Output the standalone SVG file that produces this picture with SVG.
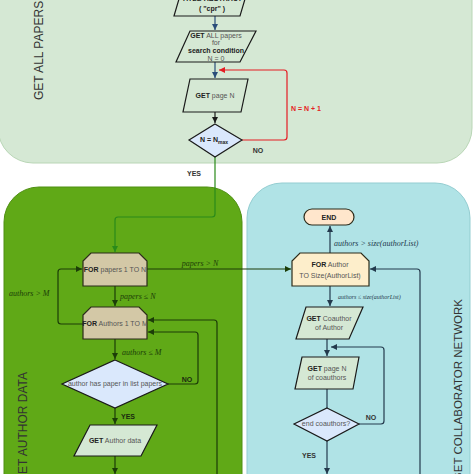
<svg xmlns="http://www.w3.org/2000/svg" width="474" height="474" viewBox="0 0 474 474">
<style>
.t{font-family:"Liberation Sans",Arial,sans-serif;font-size:7px;fill:#555;text-anchor:middle}
.b{font-weight:bold;fill:#222}
.lbl{font-family:"Liberation Sans",Arial,sans-serif;font-size:7px;font-weight:bold;text-anchor:middle}
.m{font-family:"Liberation Serif","Times New Roman",serif;font-style:italic;font-size:8px}
.title{font-family:"Liberation Sans",Arial,sans-serif;font-size:12px;fill:#333}
.par{fill:#d5e8d4;stroke:#1a1a1a;stroke-width:1.2}
.dia{fill:#dae8fc;stroke:#1a1a1a;stroke-width:1.2}
.loop1{fill:#d3c8a6;stroke:#2b2b1a;stroke-width:1.2}
.loop2{fill:#fdeecb;stroke:#2b2b1a;stroke-width:1.2}
.c{fill:none;stroke-width:1.2}
</style>
<defs>
<marker id="aB" markerWidth="6" markerHeight="6" refX="6" refY="3" orient="auto" markerUnits="userSpaceOnUse"><path d="M0,0 L6,3 L0,6 Z" fill="#2a4d7a"/></marker>
<marker id="aK" markerWidth="6" markerHeight="6" refX="6" refY="3" orient="auto" markerUnits="userSpaceOnUse"><path d="M0,0 L6,3 L0,6 Z" fill="#1a1a1a"/></marker>
<marker id="aR" markerWidth="6" markerHeight="6" refX="6" refY="3" orient="auto" markerUnits="userSpaceOnUse"><path d="M0,0 L6,3 L0,6 Z" fill="#e51c23"/></marker>
<marker id="aG" markerWidth="6" markerHeight="6" refX="6" refY="3" orient="auto" markerUnits="userSpaceOnUse"><path d="M0,0 L6,3 L0,6 Z" fill="#2a8a1a"/></marker>
<marker id="aD" markerWidth="6" markerHeight="6" refX="6" refY="3" orient="auto" markerUnits="userSpaceOnUse"><path d="M0,0 L6,3 L0,6 Z" fill="#1c3d08"/></marker>
<marker id="aN" markerWidth="6" markerHeight="6" refX="6" refY="3" orient="auto" markerUnits="userSpaceOnUse"><path d="M0,0 L6,3 L0,6 Z" fill="#233a4d"/></marker>
</defs>

<g id="panels">
<rect id="panel-papers" x="-2" y="-40" width="474" height="203" rx="35" fill="#d5e8d4" stroke="#b9d6b6" stroke-width="1"/>
<rect id="panel-author" x="4" y="187" width="238" height="330" rx="35" fill="#60a917" stroke="#4f8f12" stroke-width="1"/>
<rect id="panel-collab" x="247" y="183" width="223" height="330" rx="35" fill="#b0e3e6" stroke="#93cdd1" stroke-width="1"/>
<text class="title" transform="translate(43,100) rotate(-90)">GET ALL PAPERS</text>
<text class="title" transform="translate(27,372) rotate(-90)" text-anchor="end">GET AUTHOR DATA</text>
<text class="title" style="font-size:11.5px" transform="translate(462,299) rotate(-90)" text-anchor="end">GET COLLABORATOR NETWORK</text>
</g>

<g id="connectors">
<path class="c" stroke="#2a4d7a" d="M215,16 V30" marker-end="url(#aB)"/>
<path class="c" stroke="#2a4d7a" d="M215,62 V78" marker-end="url(#aB)"/>
<path class="c" stroke="#1a1a1a" d="M215,112 V123" marker-end="url(#aK)"/>
<path class="c" stroke="#e51c23" stroke-width="1.5" d="M242,140 H284 Q287,140 287,137 V73 Q287,70 284,70 H219" marker-end="url(#aR)"/>
<path class="c" stroke="#2a8a1a" stroke-width="1.5" d="M215,157 V214 Q215,217 212,217 H118 Q115,217 115,220 V252" marker-end="url(#aG)"/>

<path class="c" stroke="#1c3d08" d="M147,269 H291" marker-end="url(#aD)"/>
<path class="c" stroke="#1c3d08" d="M115,286 V306" marker-end="url(#aD)"/>
<path class="c" stroke="#1c3d08" d="M83,324 H61 Q58,324 58,321 V272 Q58,269 61,269 H82" marker-end="url(#aD)"/>
<path class="c" stroke="#1c3d08" d="M115,339 V359" marker-end="url(#aD)"/>
<path class="c" stroke="#1c3d08" d="M168,384 H195 Q198,384 198,381 V335 Q198,332 195,332 H148" marker-end="url(#aD)"/>
<path class="c" stroke="#1c3d08" d="M217,480 V323 Q217,320 214,320 H148" marker-end="url(#aD)"/>
<path class="c" stroke="#1c3d08" d="M115,408 V424" marker-end="url(#aD)"/>
<path class="c" stroke="#1c3d08" d="M115,456 V474" marker-end="url(#aD)"/>

<path class="c" stroke="#233a4d" d="M330,253 V226" marker-end="url(#aN)"/>
<path class="c" stroke="#233a4d" d="M330,286 V306" marker-end="url(#aN)"/>
<path class="c" stroke="#233a4d" d="M420,480 V272 Q420,269 417,269 H370" marker-end="url(#aN)"/>
<path class="c" stroke="#233a4d" d="M327,339 V356" marker-end="url(#aN)"/>
<path class="c" stroke="#233a4d" d="M359,424 H381 Q384,424 384,421 V350 Q384,347 381,347 H331" marker-end="url(#aN)"/>
<path class="c" stroke="#233a4d" d="M327,389 V408"/>
<path class="c" stroke="#233a4d" d="M327,441 V474" marker-end="url(#aN)"/>

<text class="lbl" x="306" y="111" fill="#e51c23">N = N + 1</text>
<text class="lbl" x="258" y="153" fill="#333">NO</text>
<text class="lbl" x="194" y="176" fill="#333">YES</text>
<text class="m" x="200" y="266" text-anchor="middle" fill="#1c3d08">papers &gt; N</text>
<text class="m" x="120" y="299" fill="#1c3d08">papers ≤ N</text>
<text class="m" x="9" y="296" fill="#1c3d08">authors &gt; M</text>
<text class="m" x="122" y="355" fill="#1c3d08">authors ≤ M</text>
<text class="lbl" x="187" y="382" fill="#1a2a10">NO</text>
<text class="lbl" x="128" y="419" fill="#1a2a10">YES</text>
<text class="m" x="334" y="246" fill="#233a4d">authors &gt; size(authorList)</text>
<text class="m" x="338" y="299" style="font-size:6px" fill="#233a4d">authors ≤ size(authorList)</text>
<text class="lbl" x="371" y="420" fill="#333">NO</text>
<text class="lbl" x="309" y="458" fill="#333">YES</text>
</g>

<g id="n-title">
<polygon class="par" points="184,-18 250,-18 240,16 174,16"/>
<text class="t b" x="212" y="1">TITLE-ABSTRACT</text>
<text class="t b" x="212" y="11">( "cpr" )</text>
</g>
<g id="n-getall">
<polygon class="par" points="190,31 256,31 240,62 176,62"/>
<text class="t" x="216" y="38"><tspan class="b">GET</tspan> ALL papers</text>
<text class="t" x="216" y="45">for</text>
<text class="t b" x="216" y="53">search condition</text>
<text class="t" x="216" y="61">N = 0</text>
</g>
<g id="n-getpage">
<polygon class="par" points="190,79 248,79 241,112 183,112"/>
<text class="t" x="215" y="98"><tspan class="b">GET</tspan> page N</text>
</g>
<g id="n-nmax">
<polygon class="dia" points="215,124 242,140 215,157 189,140"/>
<text class="t b" x="214" y="142">N = N<tspan font-size="5" dy="1.5">max</tspan></text>
</g>

<g id="n-forpapers">
<path class="loop1" d="M91,253 H139 L147,261 V286 H83 V261 Z"/>
<text class="t" x="115" y="272" fill="#333"><tspan class="b">FOR</tspan> papers 1 TO N</text>
</g>
<g id="n-forauthors">
<path class="loop1" d="M91,307 H139 L147,315 V339 H83 V315 Z"/>
<text class="t" x="115" y="326" fill="#333"><tspan class="b">FOR</tspan> Authors 1 TO M</text>
</g>
<g id="n-haspaper">
<polygon class="dia" points="115,360 168,384 115,408 62,384"/>
<text class="t" x="115" y="386">author has paper in list papers</text>
</g>
<g id="n-authordata">
<polygon class="par" points="90,425 157,425 141,456 74,456"/>
<text class="t" x="115" y="443"><tspan class="b">GET</tspan> Author data</text>
</g>

<g id="n-end">
<rect x="304" y="209" width="50" height="16" rx="8" fill="#ffe6cc" stroke="#2b2b1a" stroke-width="1.2"/>
<text class="t b" x="329" y="219.5">END</text>
</g>
<g id="n-forauthor">
<path class="loop2" d="M300,253 H361 L369,261 V286 H292 V261 Z"/>
<text class="t" x="330" y="267"><tspan class="b">FOR</tspan> Author</text>
<text class="t" x="330" y="278">TO  Size(AuthorList)</text>
</g>
<g id="n-coauthor">
<polygon class="par" points="306,307 363,307 349,339 296,339"/>
<text class="t" x="329" y="321"><tspan class="b">GET</tspan> Coauthor</text>
<text class="t" x="329" y="330">of Author</text>
</g>
<g id="n-pagecoauth">
<polygon class="par" points="302,357 359,357 353,389 295,389"/>
<text class="t" x="327" y="371"><tspan class="b">GET</tspan> page N</text>
<text class="t" x="327" y="380">of coauthors</text>
</g>
<g id="n-endcoauth">
<polygon class="dia" points="327,408 359,424 327,441 294,424"/>
<text class="t" x="326" y="426">end coauthors?</text>
</g>
</svg>
